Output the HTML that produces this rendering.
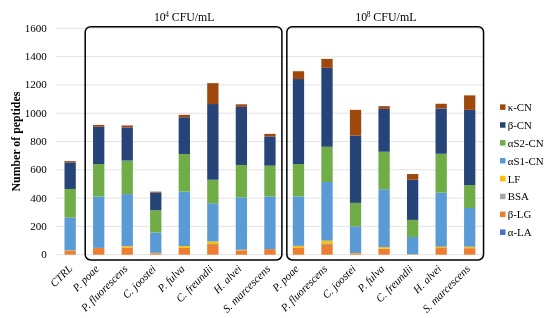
<!DOCTYPE html>
<html><head><meta charset="utf-8"><title>Number of peptides</title>
<style>html,body{margin:0;padding:0;background:#fff}svg{display:block}text{font-family:"Liberation Serif","Times New Roman",serif;fill:#000}</style></head><body>
<svg width="550" height="318" viewBox="0 0 550 318">
<rect width="550" height="318" fill="#fff"/>
<line x1="56" x2="483.5" y1="254.70" y2="254.70" stroke="#D9D9D9" stroke-width="0.75"/>
<text x="46.9" y="258.10" font-size="11.1" text-anchor="end">0</text>
<line x1="56" x2="483.5" y1="226.40" y2="226.40" stroke="#D9D9D9" stroke-width="0.75"/>
<text x="46.9" y="229.80" font-size="11.1" text-anchor="end">200</text>
<line x1="56" x2="483.5" y1="198.10" y2="198.10" stroke="#D9D9D9" stroke-width="0.75"/>
<text x="46.9" y="201.50" font-size="11.1" text-anchor="end">400</text>
<line x1="56" x2="483.5" y1="169.80" y2="169.80" stroke="#D9D9D9" stroke-width="0.75"/>
<text x="46.9" y="173.20" font-size="11.1" text-anchor="end">600</text>
<line x1="56" x2="483.5" y1="141.50" y2="141.50" stroke="#D9D9D9" stroke-width="0.75"/>
<text x="46.9" y="144.90" font-size="11.1" text-anchor="end">800</text>
<line x1="56" x2="483.5" y1="113.20" y2="113.20" stroke="#D9D9D9" stroke-width="0.75"/>
<text x="46.9" y="116.60" font-size="11.1" text-anchor="end">1000</text>
<line x1="56" x2="483.5" y1="84.90" y2="84.90" stroke="#D9D9D9" stroke-width="0.75"/>
<text x="46.9" y="88.30" font-size="11.1" text-anchor="end">1200</text>
<line x1="56" x2="483.5" y1="56.60" y2="56.60" stroke="#D9D9D9" stroke-width="0.75"/>
<text x="46.9" y="60.00" font-size="11.1" text-anchor="end">1400</text>
<line x1="56" x2="483.5" y1="28.30" y2="28.30" stroke="#D9D9D9" stroke-width="0.75"/>
<text x="46.9" y="31.70" font-size="11.1" text-anchor="end">1600</text>
<rect x="64.50" y="251.01" width="11.3" height="3.69" fill="#ED7D31"/>
<rect x="64.50" y="250.44" width="11.3" height="0.57" fill="#FFC000"/>
<rect x="64.50" y="217.64" width="11.3" height="32.80" fill="#5B9BD5"/>
<rect x="64.50" y="188.95" width="11.3" height="28.68" fill="#70AD47"/>
<rect x="64.50" y="162.40" width="11.3" height="26.55" fill="#264478"/>
<rect x="64.50" y="161.12" width="11.3" height="1.28" fill="#9E480E"/>
<rect x="93.04" y="248.03" width="11.3" height="6.67" fill="#ED7D31"/>
<rect x="93.04" y="247.88" width="11.3" height="0.14" fill="#FFC000"/>
<rect x="93.04" y="196.48" width="11.3" height="51.40" fill="#5B9BD5"/>
<rect x="93.04" y="164.10" width="11.3" height="32.38" fill="#70AD47"/>
<rect x="93.04" y="126.76" width="11.3" height="37.35" fill="#264478"/>
<rect x="93.04" y="124.91" width="11.3" height="1.85" fill="#9E480E"/>
<rect x="121.58" y="247.46" width="11.3" height="7.24" fill="#ED7D31"/>
<rect x="121.58" y="246.18" width="11.3" height="1.28" fill="#FFC000"/>
<rect x="121.58" y="194.07" width="11.3" height="52.11" fill="#5B9BD5"/>
<rect x="121.58" y="160.55" width="11.3" height="33.51" fill="#70AD47"/>
<rect x="121.58" y="127.47" width="11.3" height="33.09" fill="#264478"/>
<rect x="121.58" y="125.48" width="11.3" height="1.99" fill="#9E480E"/>
<rect x="150.12" y="253.28" width="11.3" height="1.42" fill="#ED7D31"/>
<rect x="150.12" y="252.85" width="11.3" height="0.43" fill="#FFC000"/>
<rect x="150.12" y="232.41" width="11.3" height="20.45" fill="#5B9BD5"/>
<rect x="150.12" y="210.25" width="11.3" height="22.15" fill="#70AD47"/>
<rect x="150.12" y="192.65" width="11.3" height="17.61" fill="#264478"/>
<rect x="150.12" y="191.65" width="11.3" height="0.99" fill="#9E480E"/>
<rect x="178.66" y="247.74" width="11.3" height="6.96" fill="#ED7D31"/>
<rect x="178.66" y="246.04" width="11.3" height="1.70" fill="#FFC000"/>
<rect x="178.66" y="191.65" width="11.3" height="54.39" fill="#5B9BD5"/>
<rect x="178.66" y="154.02" width="11.3" height="37.63" fill="#70AD47"/>
<rect x="178.66" y="117.24" width="11.3" height="36.78" fill="#264478"/>
<rect x="178.66" y="114.83" width="11.3" height="2.41" fill="#9E480E"/>
<rect x="207.20" y="244.05" width="11.3" height="10.65" fill="#ED7D31"/>
<rect x="207.20" y="241.49" width="11.3" height="2.56" fill="#FFC000"/>
<rect x="207.20" y="203.30" width="11.3" height="38.20" fill="#5B9BD5"/>
<rect x="207.20" y="179.72" width="11.3" height="23.57" fill="#70AD47"/>
<rect x="207.20" y="104.04" width="11.3" height="75.69" fill="#264478"/>
<rect x="207.20" y="83.16" width="11.3" height="20.87" fill="#9E480E"/>
<rect x="207.20" y="244.05" width="11.3" height="0.71" fill="#A5A5A5"/>
<rect x="235.74" y="250.30" width="11.3" height="4.40" fill="#ED7D31"/>
<rect x="235.74" y="249.73" width="11.3" height="0.57" fill="#FFC000"/>
<rect x="235.74" y="197.33" width="11.3" height="52.40" fill="#5B9BD5"/>
<rect x="235.74" y="164.96" width="11.3" height="32.38" fill="#70AD47"/>
<rect x="235.74" y="106.88" width="11.3" height="58.08" fill="#264478"/>
<rect x="235.74" y="104.32" width="11.3" height="2.56" fill="#9E480E"/>
<rect x="264.28" y="249.16" width="11.3" height="5.54" fill="#ED7D31"/>
<rect x="264.28" y="249.16" width="11.3" height="0.00" fill="#FFC000"/>
<rect x="264.28" y="196.48" width="11.3" height="52.68" fill="#5B9BD5"/>
<rect x="264.28" y="165.67" width="11.3" height="30.81" fill="#70AD47"/>
<rect x="264.28" y="136.41" width="11.3" height="29.25" fill="#264478"/>
<rect x="264.28" y="133.86" width="11.3" height="2.56" fill="#9E480E"/>
<rect x="292.82" y="247.46" width="11.3" height="7.24" fill="#ED7D31"/>
<rect x="292.82" y="245.90" width="11.3" height="1.56" fill="#FFC000"/>
<rect x="292.82" y="196.48" width="11.3" height="49.42" fill="#5B9BD5"/>
<rect x="292.82" y="164.10" width="11.3" height="32.38" fill="#70AD47"/>
<rect x="292.82" y="79.05" width="11.3" height="85.06" fill="#264478"/>
<rect x="292.82" y="71.24" width="11.3" height="7.81" fill="#9E480E"/>
<rect x="321.36" y="243.77" width="11.3" height="10.93" fill="#ED7D31"/>
<rect x="321.36" y="240.64" width="11.3" height="3.12" fill="#FFC000"/>
<rect x="321.36" y="182.00" width="11.3" height="58.65" fill="#5B9BD5"/>
<rect x="321.36" y="146.78" width="11.3" height="35.22" fill="#70AD47"/>
<rect x="321.36" y="67.83" width="11.3" height="78.95" fill="#264478"/>
<rect x="321.36" y="58.88" width="11.3" height="8.95" fill="#9E480E"/>
<rect x="321.36" y="243.77" width="11.3" height="1.14" fill="#A5A5A5"/>
<rect x="349.90" y="253.28" width="11.3" height="1.42" fill="#ED7D31"/>
<rect x="349.90" y="253.00" width="11.3" height="0.28" fill="#FFC000"/>
<rect x="349.90" y="226.30" width="11.3" height="26.70" fill="#5B9BD5"/>
<rect x="349.90" y="202.87" width="11.3" height="23.43" fill="#70AD47"/>
<rect x="349.90" y="135.56" width="11.3" height="67.31" fill="#264478"/>
<rect x="349.90" y="109.86" width="11.3" height="25.70" fill="#9E480E"/>
<rect x="378.44" y="248.74" width="11.3" height="5.96" fill="#ED7D31"/>
<rect x="378.44" y="247.17" width="11.3" height="1.56" fill="#FFC000"/>
<rect x="378.44" y="189.24" width="11.3" height="57.94" fill="#5B9BD5"/>
<rect x="378.44" y="151.75" width="11.3" height="37.49" fill="#70AD47"/>
<rect x="378.44" y="108.87" width="11.3" height="42.88" fill="#264478"/>
<rect x="378.44" y="106.17" width="11.3" height="2.70" fill="#9E480E"/>
<rect x="406.98" y="254.27" width="11.3" height="0.43" fill="#ED7D31"/>
<rect x="406.98" y="254.13" width="11.3" height="0.14" fill="#FFC000"/>
<rect x="406.98" y="236.95" width="11.3" height="17.18" fill="#5B9BD5"/>
<rect x="406.98" y="219.91" width="11.3" height="17.04" fill="#70AD47"/>
<rect x="406.98" y="179.72" width="11.3" height="40.19" fill="#264478"/>
<rect x="406.98" y="174.04" width="11.3" height="5.68" fill="#9E480E"/>
<rect x="435.52" y="248.03" width="11.3" height="6.67" fill="#ED7D31"/>
<rect x="435.52" y="246.75" width="11.3" height="1.28" fill="#FFC000"/>
<rect x="435.52" y="192.65" width="11.3" height="54.10" fill="#5B9BD5"/>
<rect x="435.52" y="153.74" width="11.3" height="38.91" fill="#70AD47"/>
<rect x="435.52" y="108.44" width="11.3" height="45.30" fill="#264478"/>
<rect x="435.52" y="103.75" width="11.3" height="4.69" fill="#9E480E"/>
<rect x="464.06" y="248.17" width="11.3" height="6.53" fill="#ED7D31"/>
<rect x="464.06" y="246.75" width="11.3" height="1.42" fill="#FFC000"/>
<rect x="464.06" y="207.98" width="11.3" height="38.77" fill="#5B9BD5"/>
<rect x="464.06" y="185.12" width="11.3" height="22.86" fill="#70AD47"/>
<rect x="464.06" y="109.86" width="11.3" height="75.26" fill="#264478"/>
<rect x="464.06" y="95.38" width="11.3" height="14.48" fill="#9E480E"/>
<rect x="85.2" y="26.7" width="196.7" height="233.3" rx="5.5" ry="5.5" fill="none" stroke="#000" stroke-width="1.5"/>
<rect x="286.85" y="26.7" width="196.7" height="233.3" rx="5.5" ry="5.5" fill="none" stroke="#000" stroke-width="1.5"/>
<text id="t1" transform="translate(153.9,21.0) scale(0.944,1)" font-size="12.5">10<tspan font-size="7.8" dx="-0.5" dy="-3.9">4</tspan><tspan dy="3.9"> CFU/mL</tspan></text>
<text id="t2" transform="translate(355.2,21.0) scale(0.955,1)" font-size="12.5">10<tspan font-size="7.8" dx="-0.5" dy="-3.9">8</tspan><tspan dy="3.9"> CFU/mL</tspan></text>
<text transform="translate(19.6,141.6) rotate(-90)" font-size="11.85" font-weight="bold" text-anchor="middle">Number of peptides</text>
<text transform="translate(73.15,269.20) rotate(-45)" font-size="11" font-style="italic" text-anchor="end">CTRL</text>
<text transform="translate(99.69,269.50) rotate(-45)" font-size="11" font-style="italic" text-anchor="end">P. poae</text>
<text transform="translate(128.23,269.50) rotate(-45)" font-size="11" font-style="italic" text-anchor="end">P. fluorescens</text>
<text transform="translate(156.77,269.50) rotate(-45)" font-size="11" font-style="italic" text-anchor="end">C. joostei</text>
<text transform="translate(185.31,269.50) rotate(-45)" font-size="11" font-style="italic" text-anchor="end">P. fulva</text>
<text transform="translate(213.85,269.50) rotate(-45)" font-size="11" font-style="italic" text-anchor="end">C. freundii</text>
<text transform="translate(242.39,269.50) rotate(-45)" font-size="11" font-style="italic" text-anchor="end">H. alvei</text>
<text transform="translate(270.93,269.50) rotate(-45)" font-size="11" font-style="italic" text-anchor="end">S. marcescens</text>
<text transform="translate(299.47,269.50) rotate(-45)" font-size="11" font-style="italic" text-anchor="end">P. poae</text>
<text transform="translate(328.01,269.50) rotate(-45)" font-size="11" font-style="italic" text-anchor="end">P. fluorescens</text>
<text transform="translate(356.55,269.50) rotate(-45)" font-size="11" font-style="italic" text-anchor="end">C. joostei</text>
<text transform="translate(385.09,269.50) rotate(-45)" font-size="11" font-style="italic" text-anchor="end">P. fulva</text>
<text transform="translate(413.63,269.50) rotate(-45)" font-size="11" font-style="italic" text-anchor="end">C. freundii</text>
<text transform="translate(442.17,269.50) rotate(-45)" font-size="11" font-style="italic" text-anchor="end">H. alvei</text>
<text transform="translate(470.71,269.50) rotate(-45)" font-size="11" font-style="italic" text-anchor="end">S. marcescens</text>
<rect x="500.0" y="104.35" width="5.5" height="5.5" fill="#9E480E"/>
<text x="507.7" y="111.10" font-size="10.9">κ-CN</text>
<rect x="500.0" y="122.22" width="5.5" height="5.5" fill="#264478"/>
<text x="507.7" y="128.97" font-size="10.9">β-CN</text>
<rect x="500.0" y="140.09" width="5.5" height="5.5" fill="#70AD47"/>
<text x="507.7" y="146.84" font-size="10.9">αS2-CN</text>
<rect x="500.0" y="157.96" width="5.5" height="5.5" fill="#5B9BD5"/>
<text x="507.7" y="164.71" font-size="10.9">αS1-CN</text>
<rect x="500.0" y="175.83" width="5.5" height="5.5" fill="#FFC000"/>
<text x="507.7" y="182.58" font-size="10.9">LF</text>
<rect x="500.0" y="193.70" width="5.5" height="5.5" fill="#A5A5A5"/>
<text x="507.7" y="200.45" font-size="10.9">BSA</text>
<rect x="500.0" y="211.57" width="5.5" height="5.5" fill="#ED7D31"/>
<text x="507.7" y="218.32" font-size="10.9">β-LG</text>
<rect x="500.0" y="229.44" width="5.5" height="5.5" fill="#4472C4"/>
<text x="507.7" y="236.19" font-size="10.9">α-LA</text>
</svg></body></html>
